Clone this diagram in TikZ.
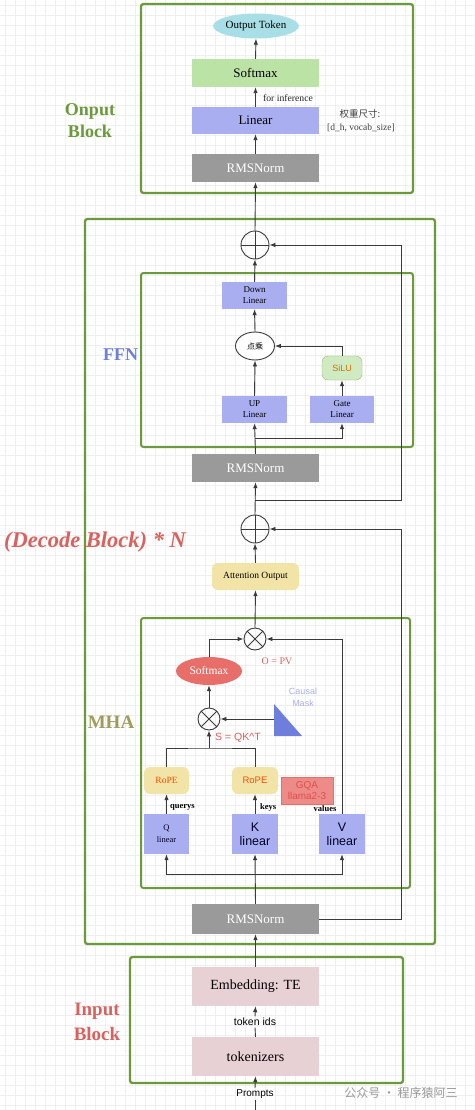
\documentclass[tikz,border=0pt]{standalone}
\usepackage{fontspec}
\setmainfont{Liberation Serif}
\setsansfont{Liberation Sans}
\newfontfamily\cjk{Noto Sans CJK SC}
\usetikzlibrary{arrows.meta,shapes.geometric}
\definecolor{frameG}{HTML}{6A9A3C}
\definecolor{smG}{HTML}{BCE3A6}
\definecolor{linB}{HTML}{A9AEF0}
\definecolor{grayB}{HTML}{9A9A9A}
\definecolor{cyanE}{HTML}{A8DFE6}
\definecolor{pinkB}{HTML}{E8D1D5}
\definecolor{redE}{HTML}{E86E6A}
\definecolor{yelB}{HTML}{F1E4A6}
\definecolor{triB}{HTML}{6E7EDD}
\definecolor{redT}{HTML}{D9625E}
\definecolor{gridc}{HTML}{EFEFEF}
\definecolor{lineC}{HTML}{3A3A3A}
\tikzset{
  frame/.style={draw=frameG, line width=2.3pt, rounded corners=2.5pt},
  rbox/.style={rectangle, inner sep=0pt, align=center, text=black},
  arr/.style={draw=lineC, line width=0.9pt, -{Latex[length=6pt,width=4.5pt]}},
  ln/.style={draw=lineC, line width=0.9pt},
  opc/.style={circle, draw=lineC, line width=0.9pt, inner sep=0pt},
}
\begin{document}
\begin{tikzpicture}[x=1pt,y=-1pt]
\useasboundingbox (0,0) rectangle (474,1110);
\fill[white] (0,0) rectangle (474,1110);
\foreach \gx in {5,15,...,474} {\draw[gridc, line width=0.5pt] (\gx,0) -- (\gx,1110);}
\foreach \gy in {5,15,...,1110} {\draw[gridc, line width=0.5pt] (0,\gy) -- (474,\gy);}

% ---------- Output block ----------
\draw[frame] (141,4) rectangle (413,193);
\node[ellipse, fill=cyanE, minimum width=81pt, minimum height=25pt, inner sep=0pt, font=\fontsize{11}{13}\selectfont] (out) at (256,26) {Output Token};
\node[rbox, fill=smG, minimum width=127pt, minimum height=28pt, font=\fontsize{13}{15}\selectfont] (sm) at (255.5,73) {Softmax};
\node[rbox, fill=linB, minimum width=127pt, minimum height=27pt, font=\fontsize{13}{15}\selectfont] (lin) at (255.5,120.5) {Linear};
\node[rbox, fill=grayB, text=white, minimum width=127pt, minimum height=28pt, font=\fontsize{13}{15}\selectfont] (rms1) at (255.5,168) {RMSNorm};
\node[font=\fontsize{9.7}{11}\selectfont, text=black!85] (forinf) at (288,98) {for inference};
\node[font=\cjk\fontsize{9.5}{11}\selectfont, text=black!75] (wt1) at (360,114) {权重尺寸:};
\node[font=\fontsize{9.5}{11}\selectfont, text=black!75] (wt2) at (361,127.5) {[d\_h, vocab\_size]};
\node[font=\bfseries\fontsize{18}{22}\selectfont, align=center, text=frameG] (onlab) at (90,121) {Onput\\Block};
\draw[arr] (rms1.north) -- (lin.south);
\draw[arr] (lin.north) -- (sm.south);
\draw[arr] (sm.north) -- (out.south);

% ---------- Decode block ----------
\draw[frame] (85,219) rectangle (435,944);
\node[font=\bfseries\itshape\fontsize{22.5}{24}\selectfont, text=redT] (declab) at (95,542) {(Decode Block) * N};

\node[opc, minimum size=28pt] (p1) at (255,245) {};
\draw[ln] (p1.north) -- (p1.south) (p1.west) -- (p1.east);

% FFN
\draw[frame, line width=2pt] (141,273) rectangle (413,447);
\node[font=\bfseries\fontsize{18}{20}\selectfont, text=triB] (ffnlab) at (120.5,355) {FFN};
\node[rbox, fill=linB, minimum width=65pt, minimum height=27pt, font=\fontsize{9}{11}\selectfont] (down) at (254.5,295.5) {Down\\Linear};
\node[ellipse, draw=lineC, line width=0.9pt, fill=white, minimum width=39pt, minimum height=28pt, inner sep=0pt, font=\cjk\fontsize{8}{10}\selectfont] (dot) at (255,346) {点乘};
\node[rectangle, rounded corners=6pt, draw=frameG!70, fill=smG!70, minimum width=40pt, minimum height=24pt, inner sep=0pt, font=\sffamily\fontsize{9}{11}\selectfont, text=orange!85!black] (silu) at (342,368) {SiLU};
\node[rbox, fill=linB, minimum width=65pt, minimum height=27pt, font=\fontsize{9}{11}\selectfont] (up) at (254.5,409.5) {UP\\Linear};
\node[rbox, fill=linB, minimum width=64pt, minimum height=27pt, font=\fontsize{9}{11}\selectfont] (gate) at (342,409.5) {Gate\\Linear};
\node[rbox, fill=grayB, text=white, minimum width=127pt, minimum height=28pt, font=\fontsize{13}{15}\selectfont] (rms2) at (255.5,468) {RMSNorm};

\coordinate (jf) at (255,438);
\draw[arr] (rms2.north) -- (up.south);
\draw[arr] (jf) -| (gate.south);
\draw[arr] (up.north) -- (dot.south);
\draw[arr] (gate.north) -- (silu.south);
\draw[arr] (silu.north) |- (dot.east);
\draw[arr] (dot.north) -- (down.south);
\draw[arr] (down.north) -- (p1.south);
\draw[arr] (p1.north) -- (rms1.south);

\node[opc, minimum size=28pt] (p2) at (255,529) {};
\draw[ln] (p2.north) -- (p2.south) (p2.west) -- (p2.east);
\coordinate (j2) at (255,500);
\coordinate (r2a) at (401,500);
\coordinate (r2b) at (401,245);
\draw[arr] (j2) -- (r2a) -- (r2b) -- (p1.east);
\draw[arr] (p2.north) -- (rms2.south);

\node[rectangle, rounded corners=6pt, fill=yelB, minimum width=87pt, minimum height=27pt, inner sep=0pt, font=\fontsize{9.5}{11}\selectfont] (attn) at (255.5,576.5) {Attention Output};
\draw[arr] (attn.north) -- (p2.south);

% MHA
\draw[frame, line width=2pt] (141,618) rectangle (410,888);
\node[font=\bfseries\fontsize{19}{21}\selectfont, text=yellow!50!black!85] (mhalab) at (111,722) {MHA};

\node[opc, minimum size=22pt] (mul1) at (255,639) {};
\draw[ln] (mul1.north west) -- (mul1.south east) (mul1.north east) -- (mul1.south west);
\node[ellipse, fill=redE, text=white, minimum width=66pt, minimum height=28pt, inner sep=0pt, font=\fontsize{11.5}{13}\selectfont] (smx) at (209,671) {Softmax};
\node[opc, minimum size=22pt] (mul2) at (209,719) {};
\draw[ln] (mul2.north west) -- (mul2.south east) (mul2.north east) -- (mul2.south west);
\fill[triB] (274,704) -- (274,736) -- (302,736) -- cycle;
\coordinate (triL) at (274,719);
\node[font=\sffamily\fontsize{9}{12}\selectfont, text=triB!60, align=center] (cmask) at (303,697) {Causal\\Mask};
\node[font=\fontsize{10}{12}\selectfont, text=redT] (opv) at (277,661) {O = PV};
\node[font=\sffamily\fontsize{10.5}{12}\selectfont, text=redT, anchor=west, inner sep=0pt] (sqk) at (215,738) {S = QK\textasciicircum T};

\node[rectangle, rounded corners=6pt, fill=yelB, minimum width=45pt, minimum height=27pt, inner sep=0pt, font=\fontsize{9.5}{11}\selectfont, text=orange!60!red] (ropeQ) at (166.5,780.5) {RoPE};
\node[rectangle, rounded corners=6pt, fill=yelB, minimum width=46pt, minimum height=27pt, inner sep=0pt, font=\sffamily\fontsize{9.5}{11}\selectfont, text=orange!60!red] (ropeK) at (255,780.5) {RoPE};
\node[rectangle, fill=redE!80, draw=redE, minimum width=52pt, minimum height=27pt, inner sep=0pt, align=center, font=\sffamily\fontsize{10}{11.5}\selectfont, text=redT!80!red] (gqa) at (307,790.5) {GQA\\llama2-3};
\node[rbox, fill=linB, minimum width=45pt, minimum height=40pt, font=\fontsize{8.5}{12}\selectfont, text=black!85!blue] (Q) at (166.5,834) {Q\\linear};
\node[rbox, fill=linB, minimum width=46pt, minimum height=40pt, font=\sffamily\fontsize{12.5}{14}\selectfont, text=black!85!blue] (K) at (255,834) {K\\linear};
\node[rbox, fill=linB, minimum width=46pt, minimum height=40pt, font=\sffamily\fontsize{12.5}{14}\selectfont, text=black!85!blue] (V) at (342,834) {V\\linear};
\node[font=\bfseries\fontsize{8.5}{10}\selectfont, anchor=west, inner sep=0pt] (lq) at (170,807) {querys};
\node[font=\bfseries\fontsize{8.5}{10}\selectfont, anchor=west, inner sep=0pt] (lk) at (260,807) {keys};
\node[font=\bfseries\fontsize{8.5}{10}\selectfont] (lv) at (325,809) {values};

\node[rbox, fill=grayB, text=white, minimum width=127pt, minimum height=30pt, font=\fontsize{13}{15}\selectfont] (rms3) at (255.5,919) {RMSNorm};

\coordinate (jb) at (255,874);
\draw[arr] (rms3.north) -- (K.south);
\draw[arr] (jb) -| (Q.south);
\draw[arr] (jb) -| (V.south);
\draw[arr] (Q.north) -- (ropeQ.south);
\draw[arr] (K.north) -- (ropeK.south);
\coordinate (jqk) at (209,748);
\draw[ln] (ropeQ.north) |- (jqk) -| (ropeK.north);
\draw[arr] (jqk) -- (mul2.south);
\draw[arr] (triL) -- (mul2.east);
\draw[arr] (mul2.north) -- (smx.south);
\draw[arr] (smx.north) |- (mul1.west);
\draw[arr] (V.north) |- (mul1.east);
\draw[arr] (mul1.north) -- (attn.south);
\coordinate (r3a) at (401,919);
\coordinate (r3b) at (401,529);
\draw[arr] (rms3.east) -- (r3a) -- (r3b) -- (p2.east);

% ---------- Input block ----------
\draw[frame] (130,957) rectangle (403,1083);
\node[font=\bfseries\fontsize{19}{25}\selectfont, align=center, text=redT] (inlab) at (97,1022) {Input\\Block};
\node[rbox, fill=pinkB, minimum width=127pt, minimum height=39pt, font=\fontsize{14}{16}\selectfont] (emb) at (255.5,986.5) {Embedding: TE};
\node[rbox, fill=pinkB, minimum width=127pt, minimum height=39pt, font=\fontsize{14}{16}\selectfont] (tok) at (255.5,1056.5) {tokenizers};
\node[font=\sffamily\fontsize{10.5}{12}\selectfont, inner sep=1.5pt] (tids) at (255,1022) {token ids};
\node[font=\sffamily\fontsize{10}{12}\selectfont, inner sep=1.5pt] (prm) at (255,1094) {Prompts};
\coordinate (bot) at (255,1110);
\draw[ln] (bot) -- (prm.south);
\draw[arr] (prm.north) -- (tok.south);
\draw[ln] (tok.north) -- (tids.south);
\draw[arr] (tids.north) -- (emb.south);
\draw[arr] (emb.north) -- (rms3.south);

\node[font=\cjk\fontsize{12}{14}\selectfont, text=black!40] (wm) at (401,1093) {公众号 · 程序猿阿三};
\end{tikzpicture}
\end{document}
